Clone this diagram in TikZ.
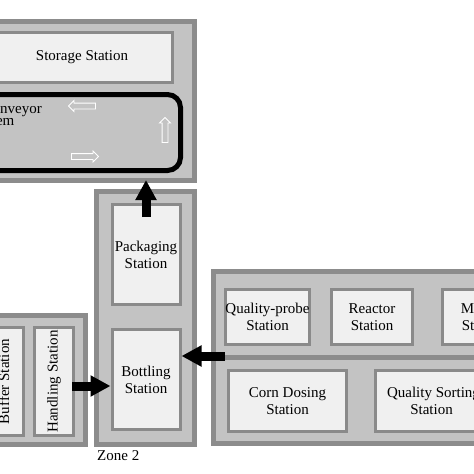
\documentclass[tikz,border=0pt]{standalone}
\usepackage{fontspec}
\setmainfont{Liberation Serif}
\definecolor{zonefill}{HTML}{C3C3C3}
\definecolor{zoneedge}{HTML}{8C8C8C}
\definecolor{boxfill}{HTML}{F0F0F0}
\definecolor{boxedge}{HTML}{8A8A8A}
\usetikzlibrary{arrows.meta}
\usetikzlibrary{shapes.arrows}

\begin{document}
\begin{tikzpicture}[x=1pt, y=-1pt,
	zone/.style={draw=zoneedge, fill=zonefill, line width=5pt, inner sep=0pt},
	station/.style={draw=boxedge, fill=boxfill, line width=3pt, inner sep=0pt, align=center, font=\fontsize{15}{17}\selectfont},
	belt/.style={draw=black, line width=5pt, rounded corners=13pt, inner sep=0pt},
	flow/.style={line width=9pt, -{Triangle[length=20pt,width=20pt]}},
	dirarrow/.style={single arrow, draw=white, line width=0.9pt, inner sep=2.5pt, single arrow head extend=2.5pt, minimum height=27pt}]
	\useasboundingbox (0,0) rectangle (474,474);
	\fill[white] (0,0) rectangle (474,474);
	\clip (0,0) rectangle (474,474);
	%zones
	\node[zone, minimum width=212pt, minimum height=159pt] (zoneS) at (88.5,101) {};
	\node[zone, minimum width=98pt, minimum height=253pt] (zone2) at (145.5,318) {};
	\node[zone, minimum width=113pt, minimum height=129pt] (zoneL) at (29,380) {};
	\node[zone, minimum width=384pt, minimum height=172pt] (zoneR) at (405.5,357.5) {};
	\draw[draw=zoneedge, line width=5pt] (zoneR.west) -- (zoneR.east);
	%stations
	\node[station, minimum width=181pt, minimum height=50pt] (storage) at (82,57.5) {Storage Station};
	\node[station, minimum width=68pt, minimum height=100pt] (packaging) at (146,254.5) {Packaging\\Station};
	\node[station, minimum width=68pt, minimum height=100pt] (bottling) at (146,379.5) {Bottling\\Station};
	\node[station, rotate=90, minimum width=108pt, minimum height=39pt] (handling) at (54,381.5) {Handling Station};
	\node[station, rotate=90, minimum width=108pt, minimum height=39pt] (buffer) at (4,381.5) {Buffer Station};
	\node[station, minimum width=82pt, minimum height=55pt] (qprobe) at (267.5,317) {Quality-probe\\Station};
	\node[station, minimum width=81pt, minimum height=55pt] (reactor) at (372,317) {Reactor\\Station};
	\node[station, minimum width=81pt, minimum height=55pt] (mixing) at (483,317) {Mixing\\Station};
	\node[station, minimum width=118pt, minimum height=61pt] (corndosing) at (287.5,401) {Corn Dosing\\Station};
	\node[station, minimum width=112pt, minimum height=61pt] (qsorting) at (431.5,401) {\hspace*{4pt}Quality Sorting\\Station};
	%conveyor loop
	\node[belt, minimum width=218pt, minimum height=76pt] (conveyor) at (71.5,132.5) {};
	\node[anchor=west, inner sep=0pt, align=left, font=\fontsize{15}{11}\selectfont] (convlbl) at (-30,116.5) {\hspace*{12.5pt}Conveyor\\[-2pt]System};
	\node[dirarrow, shape border rotate=180] (dirleft) at (83.5,106) {};
	\node[dirarrow] (dirright) at (83.5,156.5) {};
	\node[dirarrow, shape border rotate=90, minimum height=25pt] (dirup) at (165,131.5) {};
	%flows
	\coordinate (convin) at (146,180);
	\draw[flow] ([yshift=-14pt]packaging.north) -- (convin);
	\draw[flow] ([xshift=-3pt,yshift=-4.5pt]handling.south) -- ([yshift=-6.5pt]bottling.west);
	\draw[flow] ([xshift=14pt,yshift=1.5pt]zoneR.west) -- ([yshift=1.5pt]zoneR.west -| bottling.east);
	\node[anchor=north west, inner sep=3pt, font=\fontsize{15}{17}\selectfont] (zone2lbl) at (zone2.south west) {Zone 2};
\end{tikzpicture}
\end{document}
